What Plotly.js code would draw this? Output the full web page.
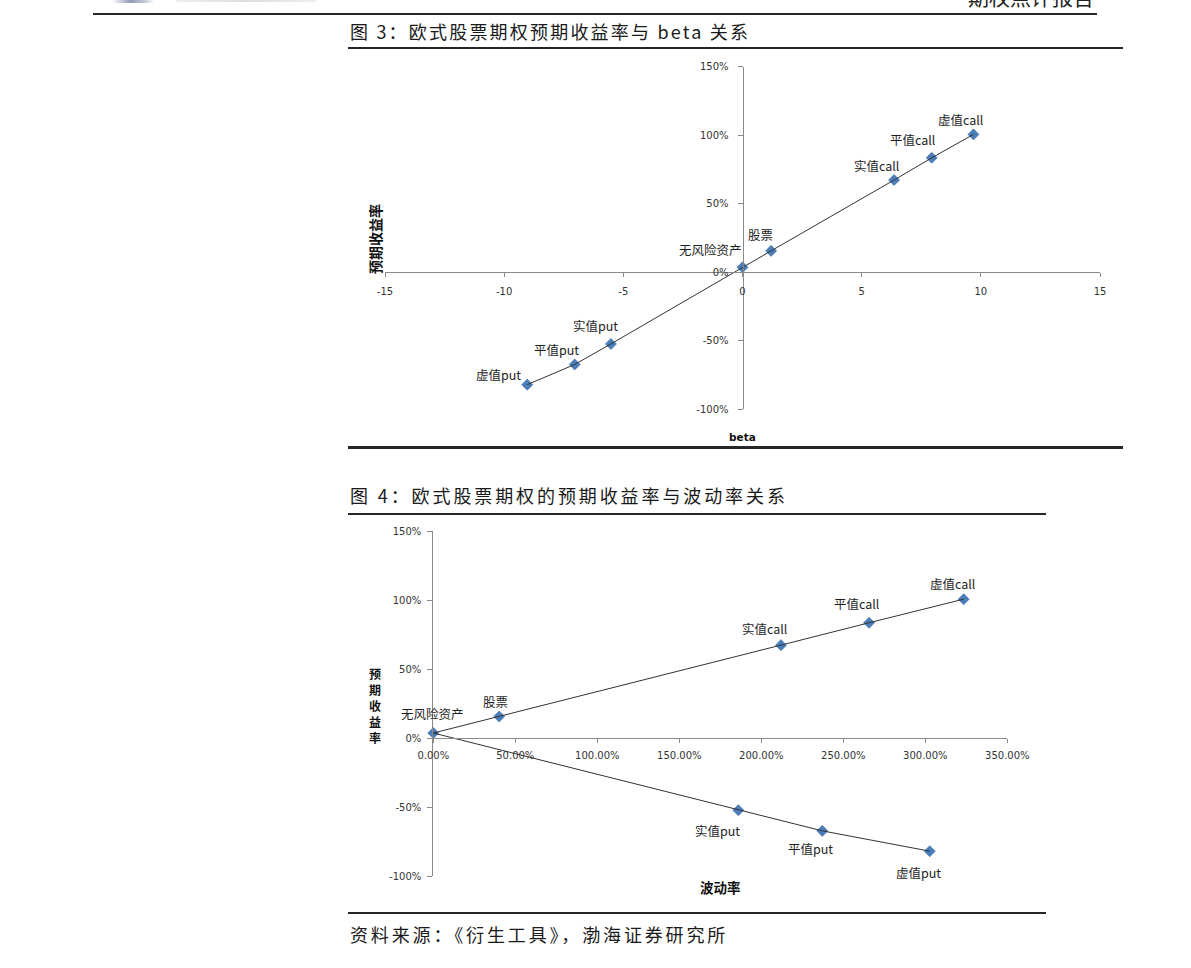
<!DOCTYPE html>
<html>
<head>
<meta charset="utf-8">
<script src="https://cdn.plot.ly/plotly-3.0.1.min.js"></script>
<style>
html,body{margin:0;padding:0;background:#fff;}
#page{position:relative;width:1191px;height:968px;overflow:hidden;background:#fff;}
#chart{position:absolute;left:0;top:0;width:1191px;height:968px;}
.rule{position:absolute;background:#262626;}
.cap{position:absolute;font-family:"Noto Sans CJK SC","Noto Sans",sans-serif;font-size:18px;color:#1a1a1a;white-space:nowrap;line-height:20px;}
.logo{position:absolute;}
</style>
</head>
<body>
<div id="page">
  <div id="chart"></div>
  <!-- header remnants -->
  <div class="logo" style="left:112px;top:0;width:42px;height:3px;background:linear-gradient(90deg,#ffffff,#8f9ab8 45%,#c9cedd 80%,#ffffff);"></div>
  <div class="logo" style="left:176px;top:0;width:140px;height:2px;background:linear-gradient(90deg,#eeeeee,#dedede,#eeeeee);"></div>
  <div class="cap" style="left:960px;top:-15px;width:134px;text-align:right;font-size:21px;line-height:22px;color:#222;">期权点评报告</div>
  <div class="rule" style="left:93px;top:13px;width:1004px;height:2px;"></div>

  <!-- figure 3 caption and rules -->
  <div class="cap" style="left:350px;top:21px;letter-spacing:2.2px;">图 3：欧式股票期权预期收益率与 beta 关系</div>
  <div class="rule" style="left:348px;top:47px;width:775px;height:2px;"></div>
  <div class="rule" style="left:348px;top:446px;width:775px;height:2.5px;"></div>

  <!-- figure 4 caption and rules -->
  <div class="cap" style="left:350px;top:485px;letter-spacing:2.9px;">图 4：欧式股票期权的预期收益率与波动率关系</div>
  <div class="rule" style="left:348px;top:513px;width:698px;height:1.5px;"></div>
  <div class="rule" style="left:348px;top:912px;width:698px;height:1.5px;"></div>
  <div class="cap" style="left:350px;top:924px;letter-spacing:2.85px;">资料来源：《衍生工具》，渤海证券研究所</div>
</div>
<script>
// ---------------- data ----------------
const optionLabels = ['虚值put', '平值put', '实值put', '无风险资产', '股票', '实值call', '平值call', '虚值call'];
const betaValues = [-9.03, -7.04, -5.52, 0, 1.20, 6.36, 7.94, 9.69];
const volatilityValues = [302.7, 237.2, 186.0, 0, 40.2, 212.0, 265.7, 323.4];   // %
const expectedReturns = [-82.0, -67.3, -52.3, 3.6, 15.6, 67.3, 83.5, 100.6];    // %

const betaTicks = [-15, -10, -5, 0, 5, 10, 15];
const betaTickLabels = ['-15', '-10', '-5', '0', '5', '10', '15'];
const returnTicks = [-100, -50, 0, 50, 100, 150];
const returnTickLabels = ['-100%', '-50%', '0%', '50%', '100%', '150%'];
const volTicks = [0, 50, 100, 150, 200, 250, 300, 350];
const volTickLabels = ['0.00%', '50.00%', '100.00%', '150.00%', '200.00%', '250.00%', '300.00%', '350.00%'];
const fig4YTitleChars = ['预', '期', '收', '益', '率'];

// ---------------- styling / layout helpers ----------------
const W = 1191, H = 968;
const px = x => x / W;
const py = y => 1 - y / H;

// label offsets (pixels) relative to each point, in optionLabels order
const fig3LabelShift = [[-29,-10],[-18,-15],[-15,-18],[-32,-18],[-11,-16],[-18,-15],[-19,-18],[-13,-15]];
const fig4LabelShift = [[-11,21],[-12,18],[-21,20],[-1,-20],[-4,-15],[-16,-17],[-13,-19],[-11,-16]];

const betaRange = [-15, 15], returnRange = [-100, 150], volRange = [0, 350];
const d3x = [px(385), px(1100)], d3y = [py(409.3), py(66.7)];
const d4x = [px(433.3), px(1007.3)], d4y = [py(876), py(531)];
const frac = (v, r) => (v - r[0]) / (r[1] - r[0]);
const at = (d, f) => d[0] + f * (d[1] - d[0]);

const tickFont = {family: 'DejaVu Sans', size: 10, color: '#333333'};
const labelFont = {family: 'Noto Sans CJK SC', size: 12.5, color: '#1e1e1e'};
const axisCommon = {
  showgrid: false, zeroline: false, showline: true, linecolor: '#8a8a8a', linewidth: 1,
  ticks: 'outside', ticklen: 4, tickwidth: 1, tickcolor: '#8a8a8a', tickfont: tickFont,
  fixedrange: true, tickmode: 'array'
};

const markerStyle = {symbol: 'diamond', size: 8.5, color: '#4a7ebb', line: {width: 0.6, color: '#3d6aa3'}};
const lineStyle = {color: '#333333', width: 1};

// order helpers
const idx = optionLabels.map((_, i) => i);
const byBeta = idx.slice().sort((a, b) => betaValues[a] - betaValues[b]);
const riskFree = optionLabels.indexOf('无风险资产');
const upperIdx = idx.filter(i => !optionLabels[i].includes('put')).sort((a, b) => volatilityValues[a] - volatilityValues[b]);
const lowerIdx = [riskFree].concat(idx.filter(i => optionLabels[i].includes('put')).sort((a, b) => volatilityValues[a] - volatilityValues[b]));
const pick = (arr, ids) => ids.map(i => arr[i]);

const traces = [
  {type: 'scatter', mode: 'markers', x: betaValues, y: expectedReturns, xaxis: 'x', yaxis: 'y',
   marker: markerStyle, hoverinfo: 'skip', cliponaxis: false},
  {type: 'scatter', mode: 'lines', x: pick(betaValues, byBeta), y: pick(expectedReturns, byBeta),
   xaxis: 'x', yaxis: 'y', line: lineStyle, hoverinfo: 'skip', cliponaxis: false},
  {type: 'scatter', mode: 'markers', x: volatilityValues, y: expectedReturns, xaxis: 'x2', yaxis: 'y2',
   marker: markerStyle, hoverinfo: 'skip', cliponaxis: false},
  {type: 'scatter', mode: 'lines', x: pick(volatilityValues, upperIdx), y: pick(expectedReturns, upperIdx),
   xaxis: 'x2', yaxis: 'y2', line: lineStyle, hoverinfo: 'skip', cliponaxis: false},
  {type: 'scatter', mode: 'lines', x: pick(volatilityValues, lowerIdx), y: pick(expectedReturns, lowerIdx),
   xaxis: 'x2', yaxis: 'y2', line: lineStyle, hoverinfo: 'skip', cliponaxis: false}
];

const annotations = [];
optionLabels.forEach((t, i) => {
  annotations.push({x: betaValues[i], y: expectedReturns[i], xref: 'x', yref: 'y', text: t, showarrow: false,
    xanchor: 'center', yanchor: 'middle', xshift: fig3LabelShift[i][0], yshift: -fig3LabelShift[i][1], font: labelFont});
  annotations.push({x: volatilityValues[i], y: expectedReturns[i], xref: 'x2', yref: 'y2', text: t, showarrow: false,
    xanchor: 'center', yanchor: 'middle', xshift: fig4LabelShift[i][0], yshift: -fig4LabelShift[i][1], font: labelFont});
});
// axis titles
annotations.push({xref: 'paper', yref: 'paper', x: px(742.5), y: py(437), text: '<b>beta</b>', showarrow: false,
  xanchor: 'center', yanchor: 'middle', font: {family: 'DejaVu Sans', size: 10.5, color: '#111'}});
annotations.push({xref: 'paper', yref: 'paper', x: px(375), y: py(239), text: '<b>预期收益率</b>', showarrow: false,
  textangle: -90, xanchor: 'center', yanchor: 'middle', font: {family: 'Noto Sans CJK SC', size: 14, color: '#111'}});
annotations.push({xref: 'paper', yref: 'paper', x: px(720), y: py(887), text: '<b>波动率</b>', showarrow: false,
  xanchor: 'center', yanchor: 'middle', font: {family: 'Noto Sans CJK SC', size: 13.5, color: '#111'}});
// stacked vertical title of figure 4 (one character per line)
fig4YTitleChars.forEach((c, k) => {
  annotations.push({xref: 'paper', yref: 'paper', x: px(375), y: py(673 + 16 * k), text: '<b>' + c + '</b>', showarrow: false,
    xanchor: 'center', yanchor: 'middle', borderpad: 0, font: {family: 'Noto Sans CJK SC', size: 12, color: '#111'}});
});

const layout = {
  width: W, height: H, margin: {l: 0, r: 0, t: 0, b: 0, pad: 0},
  paper_bgcolor: 'rgba(0,0,0,0)', plot_bgcolor: 'rgba(0,0,0,0)', showlegend: false,
  xaxis: Object.assign({}, axisCommon, {domain: d3x, range: betaRange, anchor: 'free',
    position: at(d3y, frac(0, returnRange)), tickvals: betaTicks, ticktext: betaTickLabels, ticklabelstandoff: 6}),
  yaxis: Object.assign({}, axisCommon, {domain: d3y, range: returnRange, anchor: 'free',
    position: at(d3x, frac(0, betaRange)), tickvals: returnTicks, ticktext: returnTickLabels, ticklen: 5, ticklabelstandoff: 7}),
  xaxis2: Object.assign({}, axisCommon, {domain: d4x, range: volRange, anchor: 'free',
    position: at(d4y, frac(0, returnRange)), tickvals: volTicks, ticktext: volTickLabels, ticklabelstandoff: 4}),
  yaxis2: Object.assign({}, axisCommon, {domain: d4y, range: returnRange, anchor: 'x2',
    tickvals: returnTicks, ticktext: returnTickLabels, ticklen: 5, ticklabelstandoff: 4}),
  annotations: annotations
};

Plotly.newPlot('chart', traces, layout, {staticPlot: true, displayModeBar: false});
</script>
</body>
</html>
